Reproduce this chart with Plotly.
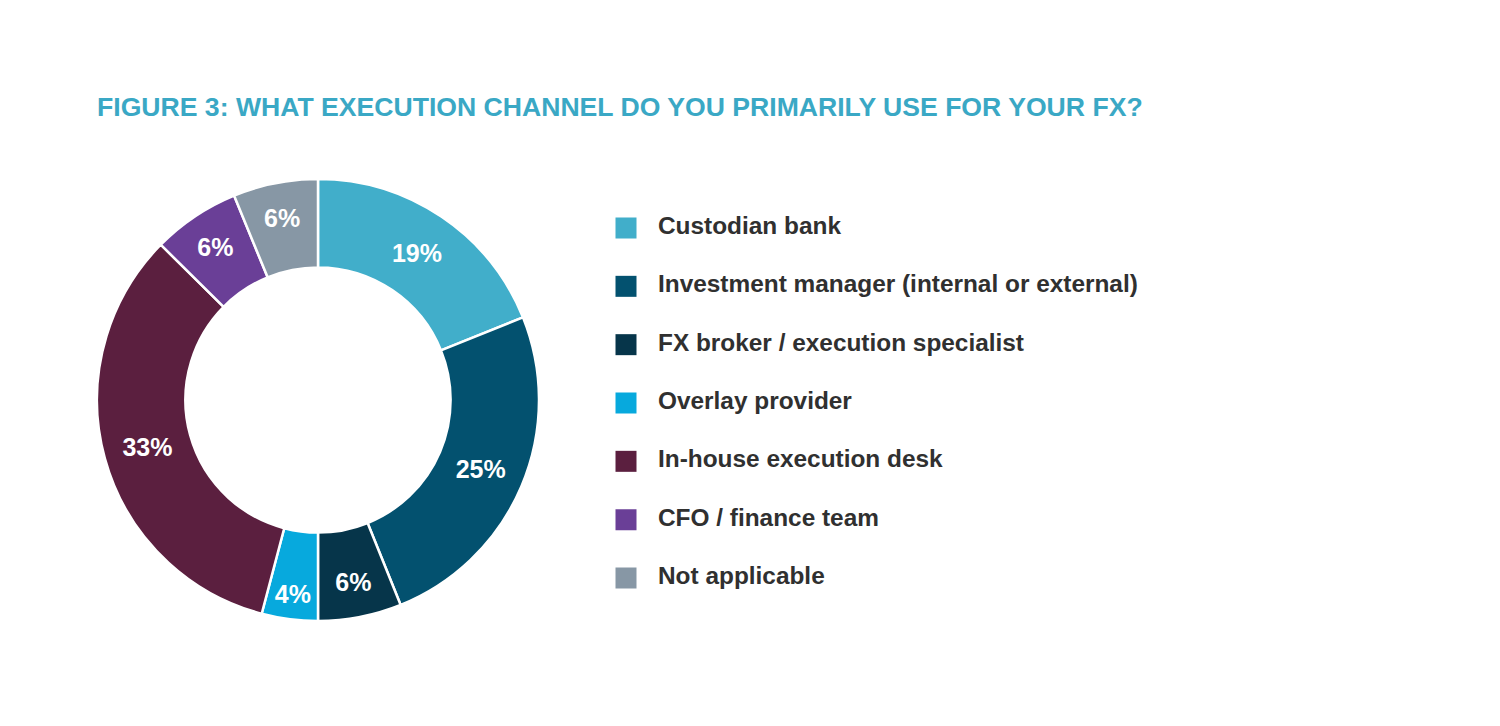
import plotly.graph_objects as go

categories = [
    "Custodian bank",
    "Investment manager (internal or external)",
    "FX broker / execution specialist",
    "Overlay provider",
    "In-house execution desk",
    "CFO / finance team",
    "Not applicable",
]
shares = [18.9, 25.0, 6.1, 4.1, 33.3, 6.4, 6.2]
pct_labels = ["19%", "25%", "6%", "4%", "33%", "6%", "6%"]
colors = ["#41AECA", "#03516F", "#06354A", "#07A9DD", "#5B1F3F", "#6A3F97", "#8797A5"]

W, H = 1500, 726
FONT = "Liberation Sans, Arial, Helvetica, sans-serif"

fig = go.Figure()

# donut (pixel box: x 97..539, y 179..621)
fig.add_trace(go.Pie(
    labels=categories,
    values=shares,
    text=pct_labels,
    textinfo="text",
    textposition="inside",
    insidetextorientation="horizontal",
    hole=0.6,
    sort=False,
    direction="clockwise",
    rotation=0,
    marker=dict(colors=colors, line=dict(color="white", width=2.5)),
    textfont=dict(family=FONT, size=25, color="white", weight="bold"),
    domain=dict(x=[97 / W, 539 / W], y=[1 - 621 / H, 1 - 179 / H]),
    showlegend=False,
    hovertemplate="%{label}: %{text}<extra></extra>",
))

# legend drawn as a categorical scatter
fig.add_trace(go.Scatter(
    x=[26] * len(categories),
    y=categories,
    mode="markers",
    marker=dict(symbol="square", size=21, color=colors, line=dict(width=0)),
    xaxis="x", yaxis="y",
    showlegend=False,
    hoverinfo="skip",
))
fig.add_trace(go.Scatter(
    x=[58] * len(categories),
    y=categories,
    mode="text",
    text=categories,
    textposition="middle right",
    textfont=dict(family=FONT, size=24.4, color="#303030", weight="bold"),
    xaxis="x", yaxis="y",
    showlegend=False,
    hoverinfo="skip",
))

row = 58.33
top = 228 - row / 2
bottom = 578 + row / 2

fig.update_layout(
    width=W, height=H,
    margin=dict(l=0, r=0, t=0, b=0),
    paper_bgcolor="white",
    plot_bgcolor="white",
    title=dict(
        text="<b>FIGURE 3: WHAT EXECUTION CHANNEL DO YOU PRIMARILY USE FOR YOUR FX?</b>",
        x=97 / W, xanchor="left",
        y=1 - 107 / H, yanchor="middle", yref="container",
        font=dict(family=FONT, size=26.6, color="#3AA8C5"),
    ),
    xaxis=dict(domain=[600 / W, 1.0], range=[0, 900], visible=False, fixedrange=True),
    yaxis=dict(domain=[1 - bottom / H, 1 - top / H], range=[6.5, -0.5], type="category",
               categoryorder="array", categoryarray=categories,
               visible=False, fixedrange=True),
    uniformtext=dict(minsize=25, mode="show"),
    showlegend=False,
)

fig.write_html("out.html")
